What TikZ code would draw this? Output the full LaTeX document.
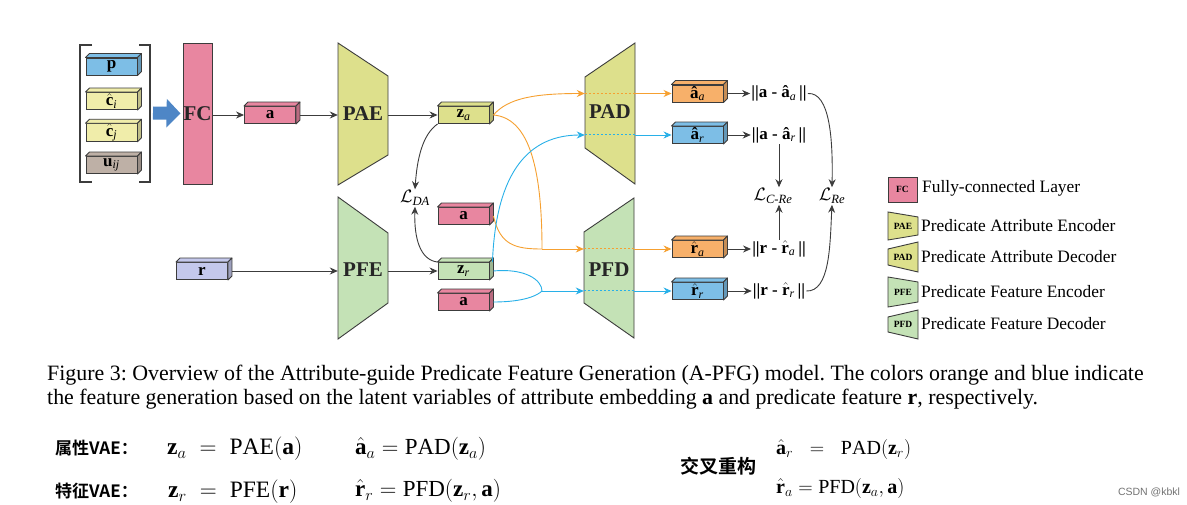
\RequirePackage{fix-cm}
\documentclass[tikz,border=0pt]{standalone}
\usepackage{amsmath}
\usepackage{fontspec}
\setmainfont{Liberation Serif}
\newfontfamily\cjk{Noto Sans CJK SC}[BoldFont={Noto Sans CJK SC Bold}]
\newfontfamily\wmfont{Liberation Sans}
\usetikzlibrary{arrows.meta}

\definecolor{pblue}{RGB}{125,190,230}
\definecolor{cyellow}{RGB}{240,237,170}
\definecolor{ubrown}{RGB}{190,176,166}
\definecolor{fcpink}{RGB}{232,134,160}
\definecolor{aegreen}{RGB}{221,224,140}
\definecolor{fegreen}{RGB}{196,226,182}
\definecolor{rlav}{RGB}{196,200,236}
\definecolor{obox}{RGB}{247,176,106}
\definecolor{oline}{RGB}{246,160,48}
\definecolor{bline}{RGB}{40,176,232}
\definecolor{bigblue}{RGB}{78,134,198}
\definecolor{linegray}{RGB}{60,60,60}

\newcommand\lsub[1]{_{\textnormal{\itshape #1}}}

\tikzset{
  cube/.style={draw=linegray, line width=0.9pt, minimum width=51pt, minimum height=17pt,
    inner sep=0pt, font=\bfseries\fontsize{17}{17}\selectfont},
  cubeface/.style={draw=linegray, line width=0.9pt, line join=round},
  block/.style={draw=linegray, line width=0.9pt},
  blocklabel/.style={minimum width=50pt, inner sep=0pt, text=black!85,
    font=\bfseries\fontsize{21}{21}\selectfont},
  flow/.style={draw=linegray, line width=0.9pt, -{Stealth[length=8pt,width=7pt]}},
  oflow/.style={flow, draw=oline},
  bflow/.style={flow, draw=bline},
  thru/.style={line width=1pt, dash pattern=on 2pt off 2pt},
  loss/.style={font=\fontsize{18}{18}\selectfont, inner sep=1pt},
  norm/.style={font=\bfseries\fontsize{17}{17}\selectfont, inner sep=1pt},
  legend/.style={font=\fontsize{17.4}{17.4}\selectfont, anchor=west, inner sep=0pt},
  mini/.style={font=\bfseries\fontsize{9.5}{9.5}\selectfont, inner sep=0pt},
  caption/.style={font=\fontsize{21.9}{21.9}\selectfont\frenchspacing, anchor=base west, inner sep=0pt},
  cjklabel/.style={font=\cjk\bfseries\fontsize{17}{17}\selectfont, anchor=west, inner sep=0pt},
  eq/.style={font=\fontsize{23.5}{23.5}\selectfont, anchor=west, inner sep=0pt},
  eqs/.style={font=\fontsize{23}{23}\selectfont, anchor=west, inner sep=0pt},
  eqr/.style={font=\fontsize{20}{20}\selectfont, anchor=west, inner sep=0pt},
}

% box drawn as a cuboid: name, position, colour, label
\newcommand\cubebox[4]{%
  \node[cube, fill=#3] (#1) at (#2) {#4};
  \filldraw[cubeface, fill=#3] (#1.north west) -- ++(4pt,4pt)
    -- ([shift={(4pt,4pt)}]#1.north east) -- (#1.north east) -- cycle;
  \filldraw[cubeface, fill=#3!80!black] (#1.north east) -- ++(4pt,4pt)
    -- ([shift={(4pt,4pt)}]#1.south east) -- (#1.south east) -- cycle;
}

\begin{document}
\begin{tikzpicture}[x=1pt,y=-1pt]
  \fill[white] (0,0) rectangle (1187,505);
  \useasboundingbox (0,0) rectangle (1187,505);

  % inputs
  \draw[linegray, line width=1.3pt] (92,45) -- (80,45) -- (80,182) -- (92,182);
  \draw[linegray, line width=1.3pt] (139,45) -- (150,45) -- (150,182) -- (139,182);
  \cubebox{p}{111.5,66.5}{pblue}{p}
  \cubebox{ci}{111.5,101}{cyellow}{$\hat{\textbf{c}}\lsub{i}$}
  \cubebox{cj}{111.5,132.5}{cyellow}{$\hat{\textbf{c}}\lsub{j}$}
  \cubebox{uij}{111.5,165}{ubrown}{$\textbf{u}\lsub{ij}$}
  \coordinate (bin) at (153,113);

  \node[block, fill=fcpink, minimum width=29pt, minimum height=141pt, inner sep=0pt,
    text=black!85, font=\bfseries\fontsize{21}{21}\selectfont] (fc) at (197.5,113.5) {FC};
  \draw[bigblue, line width=13pt, -{Triangle[length=14pt,width=28pt]}, shorten >=2pt] (bin) -- (fc.west);

  % attribute branch
  \cubebox{a}{270,115}{fcpink}{a}
  \draw[flow] (fc.east |- a) -- (a.west);
  \filldraw[block, fill=aegreen] (338,43) -- (388,76) -- (388,155) -- (338,185) -- cycle;
  \node[blocklabel] (pae) at (363,114) {PAE};
  \draw[flow] ([xshift=4pt]a.east) -- (pae.west |- a);
  \cubebox{za}{463.5,115}{aegreen}{$\textbf{z}\lsub{a}$}
  \draw[flow] (pae.east |- za) -- (za.west);

  % feature branch
  \filldraw[block, fill=fegreen] (338,197) -- (388,233) -- (388,303) -- (338,339) -- cycle;
  \node[blocklabel] (pfe) at (363,270) {PFE};
  \cubebox{r}{202,271}{rlav}{r}
  \draw[flow] ([xshift=4pt]r.east) -- (pfe.west |- r);
  \cubebox{zr}{463.5,271}{fegreen}{$\textbf{z}\lsub{r}$}
  \draw[flow] (pfe.east |- zr) -- (zr.west);
  \cubebox{aup}{463.5,216}{fcpink}{a}
  \cubebox{alow}{463.5,302}{fcpink}{a}

  % L_DA
  \node[loss] (lda) at (415,198) {$\mathcal{L}_{\textit{DA}}$};
  \draw[flow] (za.south west) .. controls (422,135) and (417,160) .. (lda.north);
  \draw[flow] (zr.north west) .. controls (420,260) and (414,238) .. (lda.south);

  % decoders
  \filldraw[block, fill=aegreen] (585,77) -- (635,43) -- (635,184) -- (585,148) -- cycle;
  \node[blocklabel] (pad) at (610,112) {PAD};
  \filldraw[block, fill=fegreen] (584,232) -- (634,198) -- (634,338) -- (584,303) -- cycle;
  \node[blocklabel] (pfd) at (609,270) {PFD};

  \cubebox{aa}{697.5,93.5}{obox}{â$\lsub{a}$}
  \cubebox{ar}{697.5,135}{pblue}{â$\lsub{r}$}
  \cubebox{ra}{697.5,249}{obox}{$\hat{\textbf{r}}\lsub{a}$}
  \cubebox{rr}{697.5,291}{pblue}{$\hat{\textbf{r}}\lsub{r}$}

  % orange paths
  \coordinate (omerge) at (542,249);
  \draw[oflow] ([xshift=4pt]za.east) .. controls (508,98) and (535,93.5) .. (pad.west |- aa);
  \draw[oline, thru] (pad.west |- aa) -- (pad.east |- aa);
  \draw[oflow] (pad.east |- aa) -- (aa.west);
  \draw[oline, line width=0.9pt] ([xshift=4pt]za.east) .. controls (528,118) and (542,165) .. (omerge);
  \draw[oline, line width=0.9pt] ([xshift=4pt]aup.east) .. controls (500,245) and (515,249) .. (omerge);
  \draw[oflow] (omerge) -- (pfd.west |- ra);
  \draw[oline, thru] (pfd.west |- ra) -- (pfd.east |- ra);
  \draw[oflow] (pfd.east |- ra) -- (ra.west);

  % blue paths
  \coordinate (bmerge) at (542,291);
  \draw[bflow] ([xshift=3pt]zr.north east) .. controls (496,170) and (530,135) .. (pad.west |- ar);
  \draw[bline, thru] (pad.west |- ar) -- (pad.east |- ar);
  \draw[bflow] (pad.east |- ar) -- (ar.west);
  \draw[bline, line width=0.9pt] ([xshift=4pt]zr.east) .. controls (525,268) and (542,280) .. (bmerge);
  \draw[bline, line width=0.9pt] ([xshift=4pt]alow.east) .. controls (525,302) and (538,295) .. (bmerge);
  \draw[bflow] (bmerge) -- (pfd.west |- rr);
  \draw[bline, thru] (pfd.west |- rr) -- (pfd.east |- rr);
  \draw[bflow] (pfd.east |- rr) -- (rr.west);

  % losses
  \node[norm] (naa) at (779,93.5) {||a - â$\lsub{a}$\,||};
  \node[norm] (nar) at (779,135) {||a - â$\lsub{r}$\,||};
  \node[norm] (nra) at (779,249) {||r - $\hat{\textbf{r}}\lsub{a}$\,||};
  \node[norm] (nrr) at (779,291) {||r - $\hat{\textbf{r}}\lsub{r}$\,||};
  \draw[flow] ([xshift=4pt]aa.east) -- (naa.west);
  \draw[flow] ([xshift=4pt]ar.east) -- (nar.west);
  \draw[flow] ([xshift=4pt]ra.east) -- (nra.west);
  \draw[flow] ([xshift=4pt]rr.east) -- (nrr.west);
  \node[loss] (lcre) at (773,196) {$\mathcal{L}_{\textit{C-Re}}$};
  \node[loss] (lre) at (832,196) {$\mathcal{L}_{\textit{Re}}$};
  \draw[flow] (nar.south) -- (nar.south |- lcre.north);
  \draw[flow] (nra.north) -- (nra.north |- lcre.south);
  \draw[flow] (naa.east) .. controls (830,92) and (833,140) .. (lre.north);
  \draw[flow] (nrr.east) .. controls (830,292) and (830,245) .. (lre.south);

  % legend
  \filldraw[block, fill=fcpink] (888,177) rectangle (917,202);
  \node[mini] (kfc) at (902.5,189.5) {FC};
  \filldraw[block, fill=aegreen] (888,212) -- (918,217) -- (918,235) -- (888,240) -- cycle;
  \node[mini] (kpae) at (903,226) {PAE};
  \filldraw[block, fill=aegreen] (888,249) -- (918,242) -- (918,272) -- (888,265) -- cycle;
  \node[mini] (kpad) at (903,257) {PAD};
  \filldraw[block, fill=fegreen] (888,277) -- (918,282) -- (918,302) -- (888,307) -- cycle;
  \node[mini] (kpfe) at (903,292) {PFE};
  \filldraw[block, fill=fegreen] (888,317) -- (918,310) -- (918,339) -- (888,332) -- cycle;
  \node[mini] (kpfd) at (903,324) {PFD};
  \node[legend] (tfc) at (922,188) {Fully-connected Layer};
  \node[legend] (tpae) at (921,226) {Predicate Attribute Encoder};
  \node[legend] (tpad) at (921,257) {Predicate Attribute Decoder};
  \node[legend] (tpfe) at (921,292) {Predicate Feature Encoder};
  \node[legend] (tpfd) at (921,324) {Predicate Feature Decoder};

  % caption
  \node[caption] (cap1) at (47,381) {Figure 3: Overview of the Attribute-guide Predicate Feature Generation (A-PFG) model. The colors orange and blue indicate};
  \node[caption] (cap2) at (47,404) {the feature generation based on the latent variables of attribute embedding \textbf{a} and predicate feature \textbf{r}, respectively.};

  % notes below
  \node[cjklabel] (vae1) at (55,448) {属性VAE：};
  \node[cjklabel] (vae2) at (55,491) {特征VAE：};
  \node[eq] (e1) at (167,449) {$\mathbf{z}_a \;=\; \mathrm{PAE}(\mathbf{a})$};
  \node[eq] (e3) at (168,492) {$\mathbf{z}_r \;=\; \mathrm{PFE}(\mathbf{r})$};
  \node[eqs] (e2) at (355,449) {$\hat{\mathbf{a}}_a = \mathrm{PAD}(\mathbf{z}_a)$};
  \node[eqs] (e4) at (355,491) {$\hat{\mathbf{r}}_r = \mathrm{PFD}(\mathbf{z}_r, \mathbf{a})$};
  \node[cjklabel, font=\cjk\bfseries\fontsize{19}{19}\selectfont] (cross) at (680,466) {交叉重构};
  \node[eqr] (e5) at (776,449) {$\hat{\mathbf{a}}_r \;\;=\;\; \mathrm{PAD}(\mathbf{z}_r)$};
  \node[eqr] (e6) at (776,488) {$\hat{\mathbf{r}}_a = \mathrm{PFD}(\mathbf{z}_a, \mathbf{a})$};
  \node[font=\wmfont\fontsize{10.5}{10.5}\selectfont, text=black!55, inner sep=0pt] (wm) at (1149,492) {CSDN @kbkl};
\end{tikzpicture}
\end{document}
